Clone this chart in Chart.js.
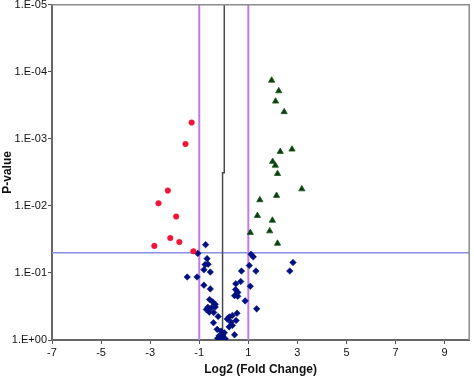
<!DOCTYPE html>
<html>
<head>
<meta charset="utf-8">
<script src="https://cdn.jsdelivr.net/npm/chart.js@4"></script>
<style>
  html, body { margin: 0; padding: 0; background: #fff; }
  #wrap { width: 474px; height: 377px; }
</style>
</head>
<body>
<div id="wrap"><canvas id="chart"></canvas></div>
<script>
// log2 fold change / p-value
const downX = [-1.31, -1.56, -2.28, -2.66, -1.94, -2.18, -1.81, -2.83, -1.24];
const downP = [0.00057, 0.00119, 0.00591, 0.00912, 0.0144, 0.0301, 0.0345, 0.0395, 0.0474];

const upX = [1.95, 2.24, 2.11, 2.46, 2.78, 2.30, 1.99, 2.10, 2.19, 3.18, 2.15, 1.47, 1.37, 1.98, 1.08, 1.87, 2.19];
const upP = [0.000134, 0.000193, 0.000275, 0.000395, 0.00143, 0.00155, 0.00218, 0.00249, 0.00331, 0.0056, 0.00701, 0.00815, 0.01397, 0.01644, 0.0251, 0.0237, 0.0363];

const nsX = [-0.74, -1.06, -0.68, -0.76, -0.64, -0.81, -0.55, -1.49, -1.09, -0.81, -0.55, 0.49,
  -0.58, -0.45, -0.35, -0.65, -0.50, -0.35, -0.71, -0.59, -0.41, 0.44, -0.42, -0.23, 0.22, 0.14,
  0.35, 0.29, 0.22, 0.44, 0.35, -0.27, -0.11, 0.02, -0.19, -0.05, -0.25, -0.12, 1.11, 1.20, 2.82,
  1.04, 0.72, 1.31, 2.69, 0.69, 1.08, 0.57, 0.57, 0.87, 1.34, 0.54, 0.50, 0.48, 0.06];
const nsP = [0.0378, 0.0511, 0.0612, 0.0751, 0.0743, 0.0897, 0.097, 0.115, 0.115, 0.152, 0.173, 0.145,
  0.249, 0.27, 0.293, 0.325, 0.331, 0.322, 0.351, 0.385, 0.389, 0.218, 0.552, 0.446, 0.453, 0.485,
  0.431, 0.541, 0.637, 0.837, 0.606, 0.694, 0.738, 0.782, 0.867, 0.852, 0.944, 0.934, 0.0525, 0.0575, 0.0699,
  0.0774, 0.0937, 0.0937, 0.0937, 0.134, 0.158, 0.195, 0.223, 0.261, 0.343, 0.398, 0.511, 0.177, 0.96];

const xTicks = [-7, -5, -3, -1, 1, 3, 5, 7, 9];
const yTicks = [1, 0.1, 0.01, 0.001, 0.0001, 0.00001];
const yTickLabels = ['1.E+00', '1.E-01', '1.E-02', '1.E-03', '1.E-04', '1.E-05'];

const foldCut = 1;
const pCut = 0.05;

const pts = (xs, ys) => xs.map((x, i) => ({ x: x, y: ys[i] }));

const framePlugin = {
  id: 'frame',
  afterDatasetsDraw(chart) {
    const { ctx, chartArea: a } = chart;
    ctx.save();
    ctx.strokeStyle = '#8c8c8c';
    ctx.lineWidth = 1.5;
    ctx.beginPath();
    ctx.moveTo(a.left, a.top);
    ctx.lineTo(a.right, a.top);
    ctx.lineTo(a.right, a.bottom);
    ctx.stroke();
    ctx.restore();
  }
};

const font = { family: 'Liberation Sans, Arial, sans-serif', size: 11 };
const titleFont = { family: 'Liberation Sans, Arial, sans-serif', size: 12, weight: 'bold' };

new Chart(document.getElementById('chart'), {
  type: 'scatter',
  data: {
    datasets: [
      {
        data: pts(downX, downP), pointStyle: 'circle', pointRadius: 2.8,
        backgroundColor: '#f01438', borderColor: '#f01438', borderWidth: 0.5, order: 1
      },
      {
        data: pts(upX, upP), pointStyle: 'triangle', pointRadius: 3.6,
        backgroundColor: '#0c3d12', borderColor: '#1a5a1a', borderWidth: 0.8, order: 1
      },
      {
        data: pts(nsX, nsP), pointStyle: 'rectRot', pointRadius: 3.3,
        backgroundColor: '#00107e', borderColor: '#00107e', borderWidth: 0.5, order: 1
      },
      {
        data: [{ x: -foldCut, y: 1e-5 }, { x: -foldCut, y: 1 }], showLine: true, pointRadius: 0,
        borderColor: '#c27be6', borderWidth: 2, order: 2
      },
      {
        data: [{ x: foldCut, y: 1e-5 }, { x: foldCut, y: 1 }], showLine: true, pointRadius: 0,
        borderColor: '#c27be6', borderWidth: 2, order: 2
      },
      {
        data: [{ x: 0.02, y: 1e-5 }, { x: 0.02, y: 0.0032 }, { x: -0.05, y: 0.0032 }, { x: -0.05, y: 1 }],
        showLine: true, pointRadius: 0, borderColor: '#4a4a4a', borderWidth: 1.5, order: 2
      },
      {
        data: [{ x: -7, y: pCut }, { x: 10, y: pCut }], showLine: true, pointRadius: 0,
        borderColor: '#8a8ee6', borderWidth: 1.5, order: 2
      }
    ]
  },
  options: {
    responsive: true,
    maintainAspectRatio: false,
    animation: false,
    layout: { padding: { top: 3, right: 4, left: 0, bottom: 0 } },
    plugins: {
      legend: { display: false },
      tooltip: { enabled: false }
    },
    scales: {
      x: {
        type: 'linear',
        min: -7,
        max: 10,
        afterBuildTicks: s => { s.ticks = xTicks.map(v => ({ value: v })); },
        afterFit: s => { s.height = 37; s.paddingRight = 0; },
        grid: { drawOnChartArea: false, tickLength: 4, color: '#555' },
        border: { color: '#666', width: 2 },
        ticks: { font: font, color: '#111', padding: 2, maxRotation: 0 },
        title: { display: true, text: 'Log2 (Fold Change)', font: titleFont, color: '#111', padding: { top: 1, bottom: 0 } }
      },
      y: {
        type: 'logarithmic',
        reverse: true,
        min: 1e-5,
        max: 1,
        afterBuildTicks: s => { s.ticks = yTicks.map(v => ({ value: v })); },
        afterFit: s => { s.width = 52; s.paddingTop = 0; s.paddingBottom = 0; },
        grid: { drawOnChartArea: false, tickLength: 4, color: '#555' },
        border: { color: '#666', width: 2 },
        ticks: {
          font: font, color: '#111', padding: 1,
          callback: v => {
            const i = yTicks.findIndex(t => Math.abs(Math.log10(t) - Math.log10(v)) < 1e-6);
            return i >= 0 ? yTickLabels[i] : '';
          }
        },
        title: { display: true, text: 'P-value', font: titleFont, color: '#111', padding: { top: 0, bottom: 0 } }
      }
    }
  },
  plugins: [framePlugin]
});
</script>
</body>
</html>
